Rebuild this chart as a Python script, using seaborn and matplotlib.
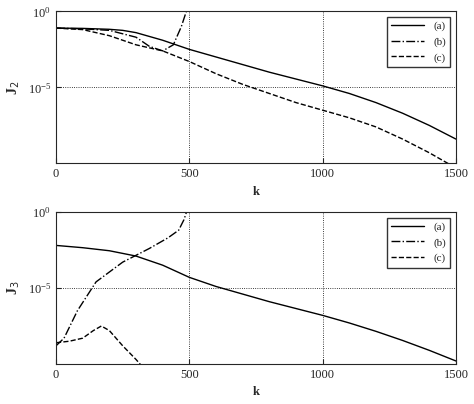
import numpy as np
import pandas as pd
import matplotlib.pyplot as plt
import seaborn as sns

sns.set_style('ticks')
plt.rcParams['font.family'] = ['Liberation Serif', 'DejaVu Serif']

# top panel (J2), values read as log10
k2a = [0, 100, 200, 250, 300, 400, 500, 600, 700, 800, 900, 1000, 1100, 1200, 1300, 1400, 1500]
j2a = [-1.1, -1.12, -1.18, -1.25, -1.4, -1.9, -2.5, -3.0, -3.5, -4.0, -4.45, -4.9, -5.4, -6.0, -6.7, -7.5, -8.4]
k2b = [0, 100, 200, 300, 350, 400, 440, 470, 485, 495]
j2b = [-1.1, -1.15, -1.25, -1.7, -2.3, -2.6, -2.2, -1.0, -0.2, 0.3]
k2c = [0, 100, 200, 300, 400, 500, 600, 700, 800, 900, 1000, 1100, 1200, 1300, 1400, 1500]
j2c = [-1.1, -1.2, -1.6, -2.2, -2.6, -3.3, -4.1, -4.8, -5.4, -6.0, -6.5, -7.0, -7.6, -8.4, -9.3, -10.3]

# bottom panel (J3)
k3a = [0, 100, 200, 300, 400, 500, 600, 700, 800, 900, 1000, 1100, 1200, 1300, 1400, 1500]
j3a = [-2.2, -2.35, -2.55, -2.9, -3.5, -4.3, -4.9, -5.4, -5.9, -6.35, -6.8, -7.3, -7.85, -8.45, -9.1, -9.8]
k3b = [0, 30, 80, 150, 250, 350, 420, 460, 480, 495]
j3b = [-8.8, -8.3, -6.5, -4.6, -3.3, -2.4, -1.7, -1.2, -0.5, 0.3]
k3c = [0, 50, 100, 140, 170, 200, 250, 300, 330]
j3c = [-8.6, -8.5, -8.3, -7.8, -7.5, -7.8, -8.8, -9.7, -10.3]

styles = {'(a)': '-', '(b)': '-.', '(c)': '--'}

fig, axes = plt.subplots(2, 1, figsize=(4.74, 4.04), dpi=100)
panels = [
    (axes[0], [(k2a, j2a, '(a)'), (k2b, j2b, '(b)'), (k2c, j2c, '(c)')], 'J$_2$'),
    (axes[1], [(k3a, j3a, '(a)'), (k3b, j3b, '(b)'), (k3c, j3c, '(c)')], 'J$_3$'),
]
for ax, series, ylab in panels:
    for kk, jj, name in series:
        df = pd.DataFrame({'k': kk, 'J': np.power(10.0, jj)})
        sns.lineplot(data=df, x='k', y='J', ax=ax, color='black', lw=1,
                     linestyle=styles[name], label=name)
    ax.set_yscale('log')
    ax.set_ylim(1e-10, 1)
    ax.set_xlim(0, 1500)
    ax.set_yticks([1e-5, 1])
    ax.minorticks_off()
    ax.set_xticks([0, 500, 1000, 1500])
    ax.grid(True, linestyle=':', color='black', lw=0.6)
    ax.set_xlabel('k', fontweight='bold', fontsize=9)
    ax.set_ylabel(ylab, fontweight='bold', fontsize=10)
    ax.tick_params(labelsize=9, direction='in')
    ax.legend(loc='upper right', fontsize=8, frameon=True, fancybox=False,
              edgecolor='black', handlelength=3)

fig.tight_layout(pad=0.4, h_pad=0.6)
fig.savefig('out.png')
